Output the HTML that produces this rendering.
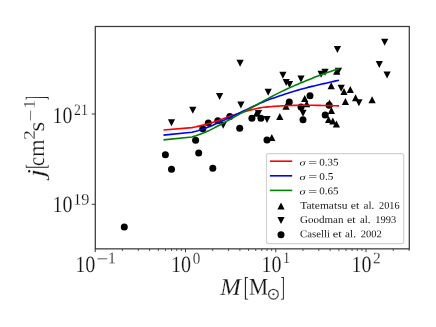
<!DOCTYPE html>
<html lang="en"><head><meta charset="utf-8"><title>j vs M</title>
<style>html,body{margin:0;padding:0;background:#fff;overflow:hidden}svg{display:block}text{font-family:"Liberation Serif",serif;fill:#141414}.big text{stroke:#fff;stroke-width:0.18px}</style></head><body>
<svg width="436" height="327" viewBox="0 0 436 327">
<rect width="436" height="327" fill="#fff"/>
<g fill="#000">
<polygon points="256.50,109.80 252.90,116.80 260.10,116.80"/>
<polygon points="271.80,134.10 268.20,141.10 275.40,141.10"/>
<polygon points="279.80,112.90 276.20,119.90 283.40,119.90"/>
<polygon points="286.00,102.70 282.40,109.70 289.60,109.70"/>
<polygon points="304.70,95.10 301.10,102.10 308.30,102.10"/>
<polygon points="306.70,100.20 303.10,107.20 310.30,107.20"/>
<polygon points="329.50,99.50 325.90,106.50 333.10,106.50"/>
<polygon points="331.40,106.90 327.80,113.90 335.00,113.90"/>
<polygon points="328.60,116.10 325.00,123.10 332.20,123.10"/>
<polygon points="332.80,117.50 329.20,124.50 336.40,124.50"/>
<polygon points="336.40,120.60 332.80,127.60 340.00,127.60"/>
<polygon points="336.70,67.70 333.10,74.70 340.30,74.70"/>
<polygon points="344.00,88.00 340.40,95.00 347.60,95.00"/>
<polygon points="350.30,86.00 346.70,93.00 353.90,93.00"/>
<polygon points="331.20,82.20 327.60,89.20 334.80,89.20"/>
<polygon points="345.40,97.90 341.80,104.90 349.00,104.90"/>
<polygon points="355.60,94.30 352.00,101.30 359.20,101.30"/>
<polygon points="372.10,96.30 368.50,103.30 375.70,103.30"/>
<polygon points="171.50,126.20 167.90,119.20 175.10,119.20"/>
<polygon points="192.80,113.70 189.20,106.70 196.40,106.70"/>
<polygon points="219.60,100.00 216.00,93.00 223.20,93.00"/>
<polygon points="240.90,108.50 237.30,101.50 244.50,101.50"/>
<polygon points="268.20,95.70 264.60,88.70 271.80,88.70"/>
<polygon points="223.20,128.80 219.60,121.80 226.80,121.80"/>
<polygon points="267.00,123.00 263.40,116.00 270.60,116.00"/>
<polygon points="303.00,116.80 299.40,109.80 306.60,109.80"/>
<polygon points="258.50,117.00 254.90,110.00 262.10,110.00"/>
<polygon points="379.30,68.00 375.70,61.00 382.90,61.00"/>
<polygon points="387.10,78.50 383.50,71.50 390.70,71.50"/>
<polygon points="384.70,45.80 381.10,38.80 388.30,38.80"/>
<polygon points="240.10,66.70 236.50,59.70 243.70,59.70"/>
<polygon points="337.40,52.90 333.80,45.90 341.00,45.90"/>
<polygon points="282.90,78.80 279.30,71.80 286.50,71.80"/>
<polygon points="286.20,86.10 282.60,79.10 289.80,79.10"/>
<polygon points="289.50,88.00 285.90,81.00 293.10,81.00"/>
<polygon points="301.00,82.60 297.40,75.60 304.60,75.60"/>
<polygon points="321.10,77.70 317.50,70.70 324.70,70.70"/>
<polygon points="325.00,75.70 321.40,68.70 328.60,68.70"/>
<polygon points="338.40,74.70 334.80,67.70 342.00,67.70"/>
<polygon points="341.20,91.80 337.60,84.80 344.80,84.80"/>
<polygon points="358.90,106.20 355.30,99.20 362.50,99.20"/>
<circle cx="202.80" cy="128.80" r="3.5"/>
<circle cx="208.30" cy="123.00" r="3.5"/>
<circle cx="217.80" cy="120.70" r="3.5"/>
<circle cx="195.60" cy="140.20" r="3.5"/>
<circle cx="251.90" cy="118.20" r="3.5"/>
<circle cx="260.90" cy="118.20" r="3.5"/>
<circle cx="239.70" cy="128.30" r="3.5"/>
<circle cx="229.80" cy="116.40" r="3.5"/>
<circle cx="267.00" cy="140.00" r="3.5"/>
<circle cx="310.00" cy="95.80" r="3.5"/>
<circle cx="289.30" cy="101.90" r="3.5"/>
<circle cx="301.00" cy="107.00" r="3.5"/>
<circle cx="303.00" cy="119.70" r="3.5"/>
<circle cx="329.10" cy="105.20" r="3.5"/>
<circle cx="325.20" cy="115.10" r="3.5"/>
<circle cx="165.40" cy="154.80" r="3.5"/>
<circle cx="198.70" cy="153.10" r="3.5"/>
<circle cx="171.50" cy="169.30" r="3.5"/>
<circle cx="212.80" cy="168.30" r="3.5"/>
<circle cx="124.30" cy="226.90" r="3.5"/>
</g>
<g fill="none" stroke-width="1.6" stroke-linejoin="round" stroke-linecap="butt">
<polyline stroke="#ff0000" points="163.50,130.00 191.90,127.60 193.90,127.21 195.90,126.79 197.90,126.35 199.90,125.88 201.90,125.39 203.90,124.89 205.90,124.36 207.90,123.83 209.90,123.26 211.90,122.66 213.90,122.02 215.90,121.37 217.90,120.69 219.90,119.98 221.90,119.24 223.90,118.49 225.90,117.75 227.90,117.03 229.90,116.35 231.90,115.68 233.90,115.03 235.90,114.38 237.90,113.75 239.90,113.12 241.90,112.48 243.90,111.84 245.90,111.22 247.90,110.65 249.90,110.12 251.90,109.64 253.90,109.16 255.90,108.71 257.90,108.28 259.90,107.90 261.90,107.57 263.90,107.31 265.90,107.10 267.90,106.90 269.90,106.71 271.90,106.54 273.90,106.38 275.90,106.23 277.90,106.10 279.90,105.98 281.90,105.87 283.90,105.77 285.90,105.68 287.90,105.60 289.90,105.53 291.90,105.46 293.90,105.40 295.90,105.35 297.90,105.31 299.90,105.30 301.90,105.30 303.90,105.30 305.90,105.30 307.90,105.30 309.90,105.30 311.90,105.30 313.90,105.31 315.90,105.34 317.90,105.37 319.90,105.40 321.90,105.44 323.90,105.48 325.90,105.52 327.90,105.56 329.90,105.61 331.90,105.67 333.90,105.73 335.90,105.79 337.90,105.86 339.00,105.90"/>
<polyline stroke="#0000ff" points="163.50,135.10 191.90,132.30 193.90,131.82 195.90,131.30 197.90,130.73 199.90,130.11 201.90,129.46 203.90,128.78 205.90,128.07 207.90,127.34 209.90,126.54 211.90,125.66 213.90,124.74 215.90,123.80 217.90,122.90 219.90,121.99 221.90,121.09 223.90,120.18 225.90,119.26 227.90,118.35 229.90,117.43 231.90,116.51 233.90,115.58 235.90,114.65 237.90,113.72 239.90,112.77 241.90,111.81 243.90,110.83 245.90,109.86 247.90,108.89 249.90,107.95 251.90,107.01 253.90,106.08 255.90,105.15 257.90,104.23 259.90,103.33 261.90,102.47 263.90,101.64 265.90,100.85 267.90,100.08 269.90,99.33 271.90,98.60 273.90,97.89 275.90,97.19 277.90,96.51 279.90,95.83 281.90,95.17 283.90,94.50 285.90,93.85 287.90,93.20 289.90,92.56 291.90,91.93 293.90,91.31 295.90,90.71 297.90,90.11 299.90,89.54 301.90,88.97 303.90,88.43 305.90,87.90 307.90,87.39 309.90,86.89 311.90,86.40 313.90,85.93 315.90,85.46 317.90,85.00 319.90,84.55 321.90,84.09 323.90,83.64 325.90,83.18 327.90,82.72 329.90,82.26 331.90,81.80 333.90,81.35 335.90,80.90 337.90,80.45 339.00,80.20"/>
<polyline stroke="#008000" points="163.50,139.90 191.90,137.00 193.90,136.39 195.90,135.74 197.90,135.04 199.90,134.30 201.90,133.53 203.90,132.73 205.90,131.90 207.90,131.04 209.90,130.14 211.90,129.15 213.90,128.12 215.90,127.08 217.90,126.03 219.90,124.96 221.90,123.87 223.90,122.77 225.90,121.66 227.90,120.56 229.90,119.45 231.90,118.34 233.90,117.22 235.90,116.11 237.90,115.00 239.90,113.91 241.90,112.82 243.90,111.75 245.90,110.68 247.90,109.61 249.90,108.53 251.90,107.45 253.90,106.36 255.90,105.24 257.90,104.11 259.90,102.98 261.90,101.86 263.90,100.75 265.90,99.67 267.90,98.59 269.90,97.52 271.90,96.46 273.90,95.41 275.90,94.37 277.90,93.35 279.90,92.35 281.90,91.37 283.90,90.41 285.90,89.47 287.90,88.55 289.90,87.64 291.90,86.75 293.90,85.87 295.90,85.00 297.90,84.15 299.90,83.30 301.90,82.47 303.90,81.64 305.90,80.82 307.90,80.01 309.90,79.20 311.90,78.39 313.90,77.59 315.90,76.80 317.90,76.02 319.90,75.26 321.90,74.50 323.90,73.76 325.90,73.04 327.90,72.33 329.90,71.65 331.90,70.98 333.90,70.34 335.90,69.71 337.90,69.09 339.20,68.70"/>
</g>
<g stroke="#3a3a3a" stroke-width="1.0" fill="none">
<line x1="95.23" y1="248.85" x2="95.23" y2="252.15"/>
<line x1="185.50" y1="248.85" x2="185.50" y2="252.15"/>
<line x1="275.77" y1="248.85" x2="275.77" y2="252.15"/>
<line x1="366.04" y1="248.85" x2="366.04" y2="252.15"/>
</g>
<g stroke="#3a3a3a" stroke-width="0.9" fill="none">
<line x1="122.40" y1="248.85" x2="122.40" y2="250.95"/>
<line x1="138.30" y1="248.85" x2="138.30" y2="250.95"/>
<line x1="149.58" y1="248.85" x2="149.58" y2="250.95"/>
<line x1="158.33" y1="248.85" x2="158.33" y2="250.95"/>
<line x1="165.47" y1="248.85" x2="165.47" y2="250.95"/>
<line x1="171.52" y1="248.85" x2="171.52" y2="250.95"/>
<line x1="176.75" y1="248.85" x2="176.75" y2="250.95"/>
<line x1="181.37" y1="248.85" x2="181.37" y2="250.95"/>
<line x1="212.67" y1="248.85" x2="212.67" y2="250.95"/>
<line x1="228.57" y1="248.85" x2="228.57" y2="250.95"/>
<line x1="239.85" y1="248.85" x2="239.85" y2="250.95"/>
<line x1="248.60" y1="248.85" x2="248.60" y2="250.95"/>
<line x1="255.74" y1="248.85" x2="255.74" y2="250.95"/>
<line x1="261.79" y1="248.85" x2="261.79" y2="250.95"/>
<line x1="267.02" y1="248.85" x2="267.02" y2="250.95"/>
<line x1="271.64" y1="248.85" x2="271.64" y2="250.95"/>
<line x1="302.94" y1="248.85" x2="302.94" y2="250.95"/>
<line x1="318.84" y1="248.85" x2="318.84" y2="250.95"/>
<line x1="330.12" y1="248.85" x2="330.12" y2="250.95"/>
<line x1="338.87" y1="248.85" x2="338.87" y2="250.95"/>
<line x1="346.01" y1="248.85" x2="346.01" y2="250.95"/>
<line x1="352.06" y1="248.85" x2="352.06" y2="250.95"/>
<line x1="357.29" y1="248.85" x2="357.29" y2="250.95"/>
<line x1="361.91" y1="248.85" x2="361.91" y2="250.95"/>
<line x1="393.21" y1="248.85" x2="393.21" y2="250.95"/>
<line x1="409.11" y1="248.85" x2="409.11" y2="250.95"/>
</g>
<g stroke="#3a3a3a" stroke-width="1.0" fill="none">
<line x1="91.80" y1="204.30" x2="95.3" y2="204.30"/>
<line x1="91.80" y1="114.00" x2="95.3" y2="114.00"/>
</g>
<rect x="266.5" y="153.7" width="137.20" height="89.90" rx="2" ry="2" fill="#fff" fill-opacity="0.8" stroke="#d2d2d2" stroke-width="1.2"/>
<line x1="269.9" y1="161.2" x2="292.2" y2="161.2" stroke="#ff0000" stroke-width="1.6"/>
<line x1="269.9" y1="175.8" x2="292.2" y2="175.8" stroke="#0000ff" stroke-width="1.6"/>
<line x1="269.9" y1="190.4" x2="292.2" y2="190.4" stroke="#008000" stroke-width="1.6"/>
<polygon fill="#000" points="281.00,202.40 277.40,209.40 284.60,209.40"/>
<polygon fill="#000" points="281.00,223.90 277.40,216.90 284.60,216.90"/>
<circle fill="#000" cx="281.0" cy="234.8" r="3.5"/>
<text transform="translate(299.53,165.60) rotate(0.03) scale(1.3877,1.0)" font-size="8.88" font-style="italic">σ</text>
<text transform="translate(308.20,166.00) scale(1.5013,1.0)" font-size="10.60">=</text>
<text transform="translate(319.29,165.40) rotate(0.03) scale(1.0897,1.0)" font-size="10.15">0.35</text>
<text transform="translate(299.53,179.90) rotate(0.03) scale(1.3877,1.0)" font-size="8.88" font-style="italic">σ</text>
<text transform="translate(308.20,180.00) scale(1.5013,1.0)" font-size="10.60">=</text>
<text transform="translate(319.28,179.70) rotate(0.03) scale(1.1091,1.0)" font-size="10.15">0.5</text>
<text transform="translate(299.53,194.50) rotate(0.03) scale(1.3877,1.0)" font-size="8.88" font-style="italic">σ</text>
<text transform="translate(308.20,195.00) scale(1.5013,1.0)" font-size="10.60">=</text>
<text transform="translate(319.29,194.30) rotate(0.03) scale(1.0897,1.0)" font-size="10.15">0.65</text>
<text transform="translate(0,208.60) rotate(0.03) scale(1.0837,1)" font-size="10.3"><tspan x="277.10" textLength="43.47" lengthAdjust="spacingAndGlyphs">Tatematsu</tspan> <tspan x="323.73" textLength="7.86" lengthAdjust="spacingAndGlyphs">et</tspan> <tspan x="335.53" textLength="9.97" lengthAdjust="spacingAndGlyphs">al.</tspan> <tspan x="349.79" textLength="18.86" lengthAdjust="spacingAndGlyphs">2016</tspan></text>
<text transform="translate(0,222.80) rotate(0.03) scale(1.0720,1)" font-size="10.3"><tspan x="279.91" textLength="40.48" lengthAdjust="spacingAndGlyphs">Goodman</tspan> <tspan x="323.81" textLength="7.95" lengthAdjust="spacingAndGlyphs">et</tspan> <tspan x="335.84" textLength="9.87" lengthAdjust="spacingAndGlyphs">al.</tspan> <tspan x="350.17" textLength="19.53" lengthAdjust="spacingAndGlyphs">1993</tspan></text>
<text transform="translate(0,237.00) rotate(0.03) scale(1.0857,1)" font-size="10.3"><tspan x="276.38" textLength="27.46" lengthAdjust="spacingAndGlyphs">Caselli</tspan> <tspan x="306.54" textLength="8.14" lengthAdjust="spacingAndGlyphs">et</tspan> <tspan x="317.87" textLength="10.05" lengthAdjust="spacingAndGlyphs">al.</tspan> <tspan x="332.37" textLength="19.37" lengthAdjust="spacingAndGlyphs">2002</tspan></text>
<rect x="95.3" y="26.5" width="314.00" height="222.35" fill="none" stroke="#3a3a3a" stroke-width="1.25"/>
<g class="big">
<text transform="translate(75.13,271.80) rotate(0.03) scale(0.8679,1.0)" font-size="23.31">10</text>
<text transform="translate(108.03,263.20) rotate(0.03) scale(0.9624,1.0)" font-size="16.21">1</text>
<text transform="translate(96.46,264.20) rotate(0.03) scale(1.2877,1.0)" font-size="16.20">−</text>
<text transform="translate(171.04,271.80) rotate(0.03) scale(0.8630,1.0)" font-size="23.31">10</text>
<text transform="translate(192.74,263.70) rotate(0.03) scale(0.9104,1.0)" font-size="16.54">0</text>
<text transform="translate(261.55,271.80) rotate(0.03) scale(0.8581,1.0)" font-size="23.31">10</text>
<text transform="translate(282.88,263.20) rotate(0.03) scale(0.8655,1.0)" font-size="16.06">1</text>
<text transform="translate(351.55,271.80) rotate(0.03) scale(0.8581,1.0)" font-size="23.31">10</text>
<text transform="translate(373.05,263.20) rotate(0.03) scale(0.9627,1.0)" font-size="16.00">2</text>
<text transform="translate(52.57,122.70) rotate(0.03) scale(0.8483,1.0)" font-size="23.31">10</text>
<text transform="translate(74.01,114.60) rotate(0.03) scale(0.8635,1.0)" font-size="16.00">21</text>
<text transform="translate(52.55,212.10) rotate(0.03) scale(0.8581,1.0)" font-size="23.31">10</text>
<text transform="translate(73.29,204.40) rotate(0.03) scale(1.0100,1.0)" font-size="16.00">19</text>
<text transform="translate(220.31,294.70) rotate(0.03) scale(1.0284,1.0)" font-size="23.97" font-style="italic">M</text>
<text transform="translate(243.79,296.21) rotate(0.03) scale(0.5423,1)" font-size="27.35">[</text>
<text transform="translate(248.91,294.60) rotate(0.03) scale(0.9035,1.0)" font-size="23.66">M</text>
<text transform="translate(266.61,299.01) rotate(0.03)" font-size="17.41" style="font-family:'DejaVu Math TeX Gyre','DejaVu Sans',sans-serif;fill:#333">⊙</text>
<text transform="translate(280.43,296.21) rotate(0.03) scale(0.4875,1)" font-size="27.35">]</text>
<g transform="translate(43.9,181.0) rotate(-90)">
<text transform="translate(3.63,0.00) rotate(0.03) scale(1.2345,1.0)" font-size="24.30" font-style="italic">j</text>
<text transform="translate(12.22,1.44) rotate(0.03) scale(0.4683,1)" font-size="27.83">[</text>
<text transform="translate(15.04,0.00) rotate(0.03) scale(0.8820,1.0)" font-size="22.98">c</text>
<text transform="translate(24.16,0.00) rotate(0.03) scale(0.9671,1.0)" font-size="22.98">m</text>
<text transform="translate(41.19,-9.10) rotate(0.03) scale(1.1735,1.0)" font-size="16.30">2</text>
<text transform="translate(49.60,0.00) rotate(0.03) scale(1.0862,1.0)" font-size="22.98">s</text>
<text transform="translate(59.44,-7.90) rotate(0.03) scale(1.3142,1.0)" font-size="16.20">−</text>
<text transform="translate(72.16,-9.10) rotate(0.03) scale(1.0749,1.0)" font-size="16.36">1</text>
<text transform="translate(80.75,1.44) rotate(0.03) scale(0.4631,1)" font-size="27.83">]</text>
</g>
</g>
</svg></body></html>
